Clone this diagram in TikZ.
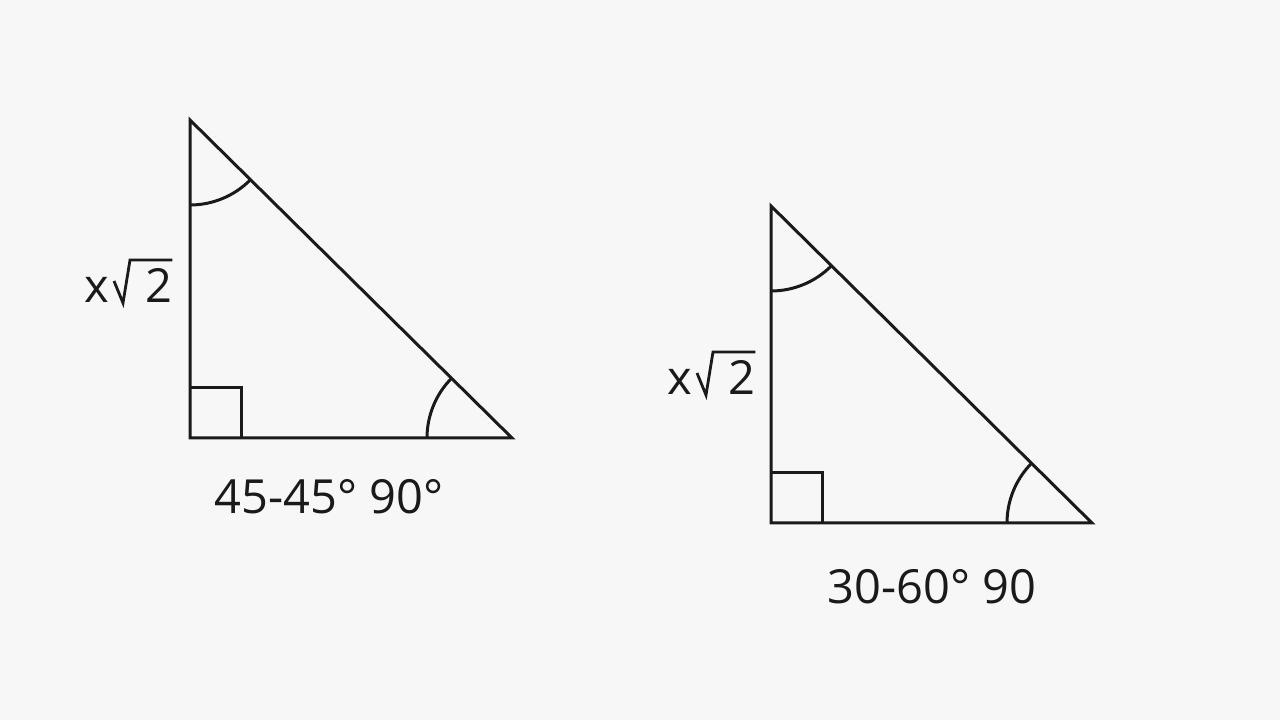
\documentclass[tikz,border=0pt]{standalone}
\usepackage{fontspec}
\setmainfont{Open Sans}
\usetikzlibrary{calc}
\definecolor{bg}{HTML}{F7F7F7}
\definecolor{ink}{HTML}{1A1A1A}
\tikzset{
  edge/.style={draw=ink, line width=3pt, line join=miter},
  anglemark/.style={draw=ink, line width=3pt},
  radical/.style={draw=ink, line width=2.8pt, line join=miter},
  lbl/.style={text=ink, font=\fontsize{47}{50}\selectfont, inner sep=0pt}
}
\begin{document}
\begin{tikzpicture}[x=1pt,y=1pt]
\fill[bg] (0,0) rectangle (1280,720);
\useasboundingbox (0,0) rectangle (1280,720);
% triangle 1
\coordinate (A1) at (190,600);
\coordinate (C1) at (190,282);
\coordinate (B1) at (512,282);
\draw[edge] (A1) -- (C1) -- (B1) -- cycle;
\draw[anglemark] ($(C1)+(0,50)$) -- ++(51,0) -- ++(0,-50);
\draw[anglemark] ($(A1)+(0,-85)$) arc[start angle=270, end angle=315.35, radius=85];
\draw[anglemark] ($(B1)+(-85,0)$) arc[start angle=180, end angle=135.35, radius=85];
\node[lbl, anchor=base west] (x1) at (84,417) {x};
\node[lbl, anchor=base west] (two1) at (145,417) {2};
\draw[radical] ($(two1.base west)+(-31,22)$) -- ($(two1.base west)+(-22,0)$)
  -- ($(two1.base west)+(-15,43)$) -- ($(two1.base east)+(0,43)$);
\node[lbl, anchor=base] (t1) at (329,206) {45-45° 90°};
% triangle 2
\coordinate (A2) at (771,514);
\coordinate (C2) at (771,197);
\coordinate (B2) at (1092,197);
\draw[edge] (A2) -- (C2) -- (B2) -- cycle;
\draw[anglemark] ($(C2)+(0,50)$) -- ++(51,0) -- ++(0,-50);
\draw[anglemark] ($(A2)+(0,-85)$) arc[start angle=270, end angle=315.36, radius=85];
\draw[anglemark] ($(B2)+(-85,0)$) arc[start angle=180, end angle=135.36, radius=85];
\node[lbl, anchor=base west] (x2) at (667,325) {x};
\node[lbl, anchor=base west] (two2) at (728,325) {2};
\draw[radical] ($(two2.base west)+(-31,22)$) -- ($(two2.base west)+(-22,0)$)
  -- ($(two2.base west)+(-15,43)$) -- ($(two2.base east)+(0,43)$);
\node[lbl, anchor=base] (t2) at (932,116) {30-60° 90};
\end{tikzpicture}
\end{document}
